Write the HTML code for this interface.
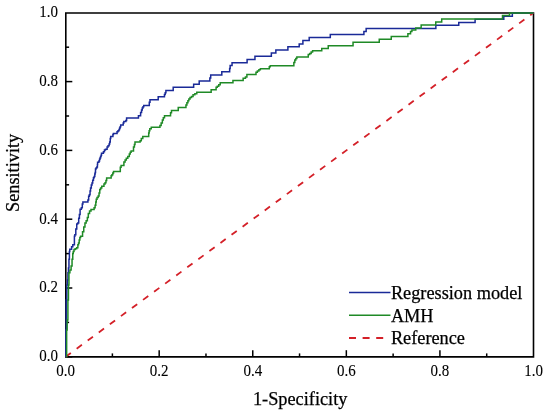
<!DOCTYPE html>
<html><head><meta charset="utf-8">
<style>
html,body{margin:0;padding:0;background:#fff;}
svg{display:block;}
text{font-family:"Liberation Serif","Times New Roman",serif;fill:#000;font-variant-ligatures:none;stroke:#000;stroke-width:0.25px;}
.tk text{stroke-width:0.1px;}
</style></head>
<body>
<svg width="550" height="415" viewBox="0 0 550 415">
<rect width="550" height="415" fill="#fff"/>
<g stroke="#000" stroke-width="1.5" fill="none">
<path d="M65.8,12.95H533.5V356.9H65.8Z" stroke-width="1.6"/>
<line x1="65.8" y1="356.80" x2="72.3" y2="356.80"/><line x1="65.8" y1="322.40" x2="69.1" y2="322.40"/><line x1="65.8" y1="288.00" x2="72.3" y2="288.00"/><line x1="65.8" y1="253.60" x2="69.1" y2="253.60"/><line x1="65.8" y1="219.20" x2="72.3" y2="219.20"/><line x1="65.8" y1="184.80" x2="69.1" y2="184.80"/><line x1="65.8" y1="150.40" x2="72.3" y2="150.40"/><line x1="65.8" y1="116.00" x2="69.1" y2="116.00"/><line x1="65.8" y1="81.60" x2="72.3" y2="81.60"/><line x1="65.8" y1="47.20" x2="69.1" y2="47.20"/><line x1="112.39" y1="356.9" x2="112.39" y2="353.4"/><line x1="159.18" y1="356.9" x2="159.18" y2="350.2"/><line x1="205.97" y1="356.9" x2="205.97" y2="353.4"/><line x1="252.76" y1="356.9" x2="252.76" y2="350.2"/><line x1="299.55" y1="356.9" x2="299.55" y2="353.4"/><line x1="346.34" y1="356.9" x2="346.34" y2="350.2"/><line x1="393.13" y1="356.9" x2="393.13" y2="353.4"/><line x1="439.92" y1="356.9" x2="439.92" y2="350.2"/><line x1="486.71" y1="356.9" x2="486.71" y2="353.4"/>
</g>
<line x1="65.6" y1="356.8" x2="533.5" y2="12.8" stroke="#d42028" stroke-width="1.8" stroke-dasharray="6.5 7.23"/>
<polyline points="65.80,356.80 65.85,356.80 65.85,330.00 66.20,330.00 66.20,300.00 66.85,300.00 66.85,285.00 67.45,285.00 67.45,280.00 67.95,280.00 67.95,272.80 68.45,272.80 68.45,268.00 68.95,268.00 68.95,259.30 69.40,259.30 69.40,251.60 69.75,251.60 69.75,249.20 71.60,249.20 71.60,246.80 72.80,246.80 72.80,244.80 74.40,244.80 74.40,236.20 74.85,236.20 74.85,234.70 75.80,234.70 75.80,228.90 76.75,228.90 76.75,224.10 77.70,224.10 77.70,223.10 78.70,223.10 78.70,218.30 79.40,218.30 79.40,214.50 80.10,214.50 80.10,209.20 81.35,209.20 81.35,207.70 82.30,207.70 82.30,203.90 82.90,203.90 82.90,202.00 87.90,202.00 87.90,200.00 88.65,200.00 88.65,196.20 89.35,196.20 89.35,194.70 90.05,194.70 90.05,190.90 90.55,190.90 90.55,188.00 91.30,188.00 91.30,185.10 92.00,185.10 92.00,183.10 92.70,183.10 92.70,180.30 93.45,180.30 93.45,177.80 94.15,177.80 94.15,176.40 94.80,176.40 94.80,174.00 95.15,174.00 95.15,172.50 95.50,172.50 95.50,169.00 96.05,169.00 96.05,168.00 96.85,168.00 96.85,167.00 97.40,167.00 97.40,164.60 97.60,164.60 97.60,162.20 98.90,162.20 98.90,161.00 99.55,161.00 99.55,159.30 100.00,159.30 100.00,157.90 100.55,157.90 100.55,156.40 101.10,156.40 101.10,155.20 101.50,155.20 101.50,153.20 103.40,153.20 103.40,151.80 104.45,151.80 104.45,150.10 105.45,150.10 105.45,149.20 107.10,149.20 107.10,147.00 108.05,147.00 108.05,145.80 109.10,145.80 109.10,144.00 109.70,144.00 109.70,141.90 110.25,141.90 110.25,138.50 110.70,138.50 110.70,136.60 112.90,136.60 112.90,134.60 113.45,134.60 113.45,133.60 117.05,133.60 117.05,131.80 118.00,131.80 118.00,130.80 119.00,130.80 119.00,129.60 119.60,129.60 119.60,128.10 120.15,128.10 120.15,126.80 120.70,126.80 120.70,125.00 123.20,125.00 123.20,122.90 123.85,122.90 123.85,121.60 125.85,121.60 125.85,120.60 126.60,120.60 126.60,117.90 138.45,117.90 138.45,115.70 140.60,115.70 140.60,112.50 141.55,112.50 141.55,110.10 142.25,110.10 142.25,108.10 143.00,108.10 143.00,106.70 143.75,106.70 143.75,105.60 149.30,105.60 149.30,102.30 150.00,102.30 150.00,99.80 158.20,99.80 158.20,96.70 164.45,96.70 164.45,94.60 165.20,94.60 165.20,92.70 165.90,92.70 165.90,90.50 173.20,90.50 173.20,87.20 193.65,87.20 193.65,84.30 199.20,84.30 199.20,81.00 209.85,81.00 209.85,78.00 210.70,78.00 210.70,75.00 221.80,75.00 221.80,71.80 229.65,71.80 229.65,68.40 230.15,68.40 230.15,65.50 232.05,65.50 232.05,62.70 247.10,62.70 247.10,59.40 254.95,59.40 254.95,56.30 271.35,56.30 271.35,53.10 275.85,53.10 275.85,50.00 287.90,50.00 287.90,46.70 299.20,46.70 299.20,43.90 302.90,43.90 302.90,40.60 309.20,40.60 309.20,37.60 330.30,37.60 330.30,34.50 363.90,34.50 363.90,31.50 366.15,31.50 366.15,28.50 435.85,28.50 435.85,25.20 458.75,25.20 458.75,22.40 475.10,22.40 475.10,19.20 503.80,19.20 503.80,16.30 512.35,16.30 512.35,12.95 533.50,12.95" fill="none" stroke="#1a2a98" stroke-width="1.5" stroke-linejoin="miter"/>
<polyline points="66.60,356.80 66.65,356.80 66.65,330.00 67.15,330.00 67.15,320.00 67.90,320.00 67.90,300.00 68.45,300.00 68.45,285.00 68.95,285.00 68.95,272.80 69.90,272.80 69.90,269.90 71.10,269.90 71.10,266.00 72.05,266.00 72.05,259.30 72.75,259.30 72.75,253.50 73.25,253.50 73.25,251.60 74.00,251.60 74.00,249.60 75.20,249.60 75.20,248.70 76.65,248.70 76.65,247.70 77.85,247.70 77.85,244.80 78.55,244.80 78.55,242.90 79.20,242.90 79.20,240.00 79.85,240.00 79.85,237.60 80.60,237.60 80.60,236.20 82.55,236.20 82.55,231.80 83.75,231.80 83.75,227.00 84.95,227.00 84.95,223.10 86.15,223.10 86.15,220.70 87.35,220.70 87.35,217.40 88.30,217.40 88.30,213.50 89.55,213.50 89.55,211.10 91.00,211.10 91.00,209.60 94.10,209.60 94.10,207.70 95.10,207.70 95.10,205.30 95.80,205.30 95.80,201.90 96.25,201.90 96.25,199.30 97.05,199.30 97.05,197.50 98.15,197.50 98.15,196.00 99.05,196.00 99.05,193.10 99.75,193.10 99.75,189.50 100.65,189.50 100.65,188.10 101.75,188.10 101.75,186.30 103.95,186.30 103.95,184.10 105.05,184.10 105.05,182.70 105.95,182.70 105.95,180.50 106.65,180.50 106.65,178.00 111.15,178.00 111.15,175.80 111.95,175.80 111.95,174.70 112.80,174.70 112.80,172.90 113.55,172.90 113.55,171.60 120.30,171.60 120.30,167.30 121.10,167.30 121.10,165.50 123.90,165.50 123.90,161.90 125.10,161.90 125.10,160.10 126.30,160.10 126.30,158.30 127.80,158.30 127.80,156.50 129.30,156.50 129.30,154.10 130.20,154.10 130.20,152.30 131.10,152.30 131.10,151.10 133.50,151.10 133.50,146.90 134.40,146.90 134.40,144.50 135.00,144.50 135.00,142.00 140.10,142.00 140.10,140.80 141.30,140.80 141.30,138.40 142.80,138.40 142.80,136.60 148.70,136.60 148.70,133.00 149.15,133.00 149.15,130.70 149.80,130.70 149.80,128.70 151.25,128.70 151.25,127.30 159.95,127.30 159.95,125.40 161.15,125.40 161.15,123.00 162.35,123.00 162.35,120.10 163.30,120.10 163.30,117.70 164.50,117.70 164.50,115.70 170.55,115.70 170.55,112.80 171.50,112.80 171.50,110.40 178.25,110.40 178.25,107.50 185.95,107.50 185.95,105.10 186.90,105.10 186.90,102.70 187.90,102.70 187.90,100.80 188.85,100.80 188.85,98.90 190.05,98.90 190.05,97.40 191.50,97.40 191.50,96.40 193.05,96.40 193.05,94.70 194.85,94.70 194.85,93.70 196.80,93.70 196.80,92.20 211.15,92.20 211.15,89.70 216.10,89.70 216.10,87.20 217.30,87.20 217.30,86.20 218.75,86.20 218.75,84.80 220.20,84.80 220.20,82.80 232.95,82.80 232.95,80.60 243.15,80.60 243.15,78.30 245.45,78.30 245.45,77.00 246.90,77.00 246.90,74.60 256.00,74.60 256.00,72.30 257.35,72.30 257.35,71.10 258.90,71.10 258.90,69.70 260.35,69.70 260.35,68.70 269.30,68.70 269.30,66.80 270.25,66.80 270.25,65.80 293.85,65.80 293.85,62.50 294.80,62.50 294.80,60.10 295.80,60.10 295.80,58.60 296.85,58.60 296.85,57.00 308.25,57.00 308.25,54.40 309.70,54.40 309.70,53.40 311.15,53.40 311.15,52.00 312.60,52.00 312.60,50.80 321.75,50.80 321.75,48.60 328.25,48.60 328.25,45.70 353.05,45.70 353.05,42.20 379.25,42.20 379.25,39.30 391.25,39.30 391.25,36.50 407.90,36.50 407.90,33.80 410.55,33.80 410.55,31.60 411.90,31.60 411.90,30.00 415.75,30.00 415.75,28.10 421.15,28.10 421.15,24.90 435.75,24.90 435.75,22.00 441.70,22.00 441.70,19.10 502.50,19.10 502.50,15.60 509.50,15.60 509.50,12.95 533.50,12.95" fill="none" stroke="#1f8a26" stroke-width="1.5" stroke-linejoin="miter"/>
<g font-size="15" class="tk">
<text transform="translate(57.9,361.10) scale(1,1.06)" text-anchor="end">0.0</text><text transform="translate(57.9,292.30) scale(1,1.06)" text-anchor="end">0.2</text><text transform="translate(57.9,223.50) scale(1,1.06)" text-anchor="end">0.4</text><text transform="translate(57.9,154.70) scale(1,1.06)" text-anchor="end">0.6</text><text transform="translate(57.9,85.90) scale(1,1.06)" text-anchor="end">0.8</text><text transform="translate(57.9,17.10) scale(1,1.06)" text-anchor="end">1.0</text>
<text transform="translate(65.60,376.0) scale(1,1.06)" text-anchor="middle">0.0</text><text transform="translate(159.18,376.0) scale(1,1.06)" text-anchor="middle">0.2</text><text transform="translate(252.76,376.0) scale(1,1.06)" text-anchor="middle">0.4</text><text transform="translate(346.34,376.0) scale(1,1.06)" text-anchor="middle">0.6</text><text transform="translate(439.92,376.0) scale(1,1.06)" text-anchor="middle">0.8</text><text transform="translate(533.50,376.0) scale(1,1.06)" text-anchor="middle">1.0</text>
</g>
<text x="300.2" y="404.8" font-size="18.3" text-anchor="middle">1-Specificity</text>
<text transform="translate(18.9,172.9) rotate(-90)" font-size="18.3" text-anchor="middle">Sensitivity</text>
<line x1="349" y1="292.5" x2="390.5" y2="292.5" stroke="#1a2a98" stroke-width="1.6"/>
<line x1="349" y1="315.3" x2="390.5" y2="315.3" stroke="#1f8a26" stroke-width="1.6"/>
<line x1="349" y1="338" x2="384" y2="338" stroke="#d42028" stroke-width="1.8" stroke-dasharray="7 6.6"/>
<g font-size="18.3">
<text x="390.9" y="298.7">Regression model</text>
<text x="390.9" y="321.5">AMH</text>
<text x="390.9" y="344.3">Reference</text>
</g>
</svg>
</body></html>
